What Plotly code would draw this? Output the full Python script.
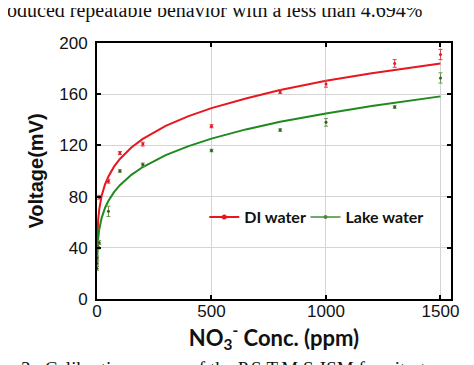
import plotly.graph_objects as go

# ---- data ----
di_x = [1, 10, 50, 100, 200, 500, 800, 1000, 1300, 1500]
di_y = [42, 79.5, 92, 114, 121, 135, 162, 168, 184, 191]
di_err = [1.5, 1.5, 1.5, 1.2, 1.5, 1.2, 1.5, 2.5, 3, 4]

lake_x = [0.1, 0.5, 1, 5, 10, 50, 100, 200, 500, 800, 1000, 1300, 1500]
lake_y = [24, 28, 32, 40, 44, 68.5, 100, 105, 116, 132, 138, 150, 172.7]
lake_err = [1.5, 1.5, 1.5, 1, 1.5, 4, 1, 1.2, 1, 1, 3, 1, 4]

# fitted curves
fit_x = [0, 2, 5, 10, 20, 35, 50, 75, 100, 150, 200, 300, 400, 500, 650, 800, 1000, 1200, 1500]
di_fit = [38, 51.6, 61.6, 70.3, 80.4, 89.5, 95.7, 103.6, 109.4, 118.4, 125.1, 135.2,
          142.9, 149.1, 156.7, 163.3, 170.5, 176.4, 184]
lake_fit = [28, 38.7, 47.0, 54.5, 63.2, 71.1, 76.8, 83.7, 88.9, 97.0, 103.1, 112.4,
            119.4, 125.3, 132.5, 138.4, 145, 150.8, 158.3]

x_ticks = [0, 500, 1000, 1500]
y_ticks = [0, 40, 80, 120, 160, 200]
series_names = ["DI water", "Lake water"]

RED = "#e8161e"
GREEN = "#1e8a1e"

fig = go.Figure()

# fit lines
fig.add_trace(go.Scatter(x=fit_x, y=di_fit, mode="lines", line=dict(color=RED, width=2),
                         showlegend=False, hoverinfo="skip"))
fig.add_trace(go.Scatter(x=fit_x, y=lake_fit, mode="lines", line=dict(color=GREEN, width=2),
                         showlegend=False, hoverinfo="skip"))

# data points with error bars
fig.add_trace(go.Scatter(x=di_x, y=di_y, mode="markers",
                         marker=dict(color=RED, size=3),
                         error_y=dict(type="data", array=di_err, color="#d9444a", thickness=1, width=2),
                         showlegend=False))
fig.add_trace(go.Scatter(x=lake_x, y=lake_y, mode="markers",
                         marker=dict(color="#3a5a2a", size=3),
                         error_y=dict(type="data", array=lake_err, color="#6a9a4a", thickness=1, width=2),
                         showlegend=False))

# legend entries
fig.add_trace(go.Scatter(x=[None], y=[None], mode="lines+markers", name=series_names[0],
                         line=dict(color=RED, width=2), marker=dict(color=RED, size=5),
                         legend="legend"))
fig.add_trace(go.Scatter(x=[None], y=[None], mode="lines+markers", name=series_names[1],
                         line=dict(color="#4a8a3a", width=1.5), marker=dict(color="#4a8a3a", size=4),
                         legend="legend2"))

axis_common = dict(
    showline=True, linecolor="black", linewidth=2, mirror="ticks",
    ticks="inside", ticklen=4, tickwidth=1.5, tickcolor="black",
    showgrid=True, gridcolor="#d4d4d4", gridwidth=1, zeroline=False,
    tickfont=dict(family="Liberation Sans, Arial", size=17, color="#111"),
)

fig.update_xaxes(range=[0, 1546], tickvals=x_ticks, ticklabelstandoff=-4,
                 title=dict(text="NO<sub>3</sub><sup>-</sup> Conc. (ppm)",
                            font=dict(family="Lato", size=22, color="#111", weight="bold"),
                            standoff=2),
                 **axis_common)
fig.update_yaxes(range=[0, 200], tickvals=y_ticks, ticklabelstandoff=4,
                 title=dict(text="Voltage(mV)",
                            font=dict(family="Liberation Sans, Arial", size=20, color="#111", weight="bold"),
                            standoff=10),
                 **axis_common)

legend_common = dict(orientation="h", yanchor="middle", xanchor="left",
                     bgcolor="rgba(0,0,0,0)",
                     font=dict(family="Lato", size=16, color="#111", weight="bold"),
                     itemwidth=30)

fig.update_layout(
    width=474, height=365,
    margin=dict(l=89, r=31, t=35, b=74),
    paper_bgcolor="white", plot_bgcolor="white",
    legend=dict(x=0.303, y=0.32, **legend_common),
    legend2=dict(x=0.589, y=0.32, **legend_common),
    annotations=[
        dict(text="oduced repeatable behavior with a less than 4.694%",
             xref="paper", yref="paper", x=-0.26, y=1.128, xanchor="left", yanchor="middle",
             showarrow=False, font=dict(family="Liberation Serif, Times New Roman", size=20, color="#111")),
        dict(text="3.  Calibration curves of the P.S.T.M.S-ISM for nitrate sensing in",
             xref="paper", yref="paper", x=-0.22, y=-0.272, xanchor="left", yanchor="middle",
             showarrow=False, font=dict(family="Liberation Serif, Times New Roman", size=19, color="#111")),
    ],
)

fig.write_html("out.html")
